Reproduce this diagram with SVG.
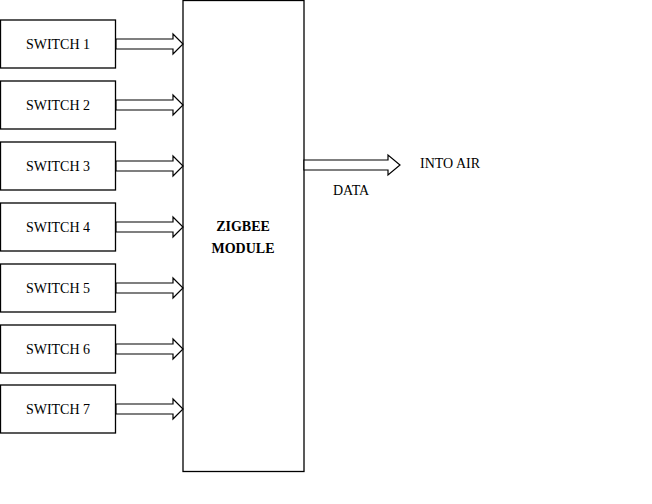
<svg xmlns="http://www.w3.org/2000/svg" width="652" height="504" viewBox="0 0 652 504">
<defs><style>
rect{fill:#fff;stroke:#000;stroke-width:1.3}
.a{fill:#fff;stroke:#000;stroke-width:1.2}
text{font-family:'Liberation Serif','Times New Roman','DejaVu Serif',serif;font-size:14px;fill:#000}
</style>
<polygon id="ar" class="a" points="0,-5 57,-5 57,-10 67,0 57,10 57,5 0,5"/>
</defs>
<rect width="652" height="504" style="stroke:none"/>
<g id="module"><rect x="183" y="0.5" width="121" height="471"/><text x="243" y="231" text-anchor="middle" font-weight="bold">ZIGBEE</text><text x="243" y="253" text-anchor="middle" font-weight="bold">MODULE</text></g>
<g id="s1"><rect x="0.5" y="20" width="115" height="48"/><text x="58" y="49" text-anchor="middle">SWITCH 1</text></g>
<g id="s2"><rect x="0.5" y="81" width="115" height="48"/><text x="58" y="110" text-anchor="middle">SWITCH 2</text></g>
<g id="s3"><rect x="0.5" y="142" width="115" height="48"/><text x="58" y="171" text-anchor="middle">SWITCH 3</text></g>
<g id="s4"><rect x="0.5" y="203" width="115" height="48"/><text x="58" y="232" text-anchor="middle">SWITCH 4</text></g>
<g id="s5"><rect x="0.5" y="264" width="115" height="48"/><text x="58" y="293" text-anchor="middle">SWITCH 5</text></g>
<g id="s6"><rect x="0.5" y="325" width="115" height="48"/><text x="58" y="354" text-anchor="middle">SWITCH 6</text></g>
<g id="s7"><rect x="0.5" y="385" width="115" height="48"/><text x="58" y="414" text-anchor="middle">SWITCH 7</text></g>
<g id="connectors">
<use href="#ar" x="116" y="44"/><use href="#ar" x="116" y="105"/><use href="#ar" x="116" y="166"/><use href="#ar" x="116" y="227"/><use href="#ar" x="116" y="288"/><use href="#ar" x="116" y="349"/><use href="#ar" x="116" y="409"/>
<polygon class="a" points="304,160 388,160 388,155 400,165 388,175 388,170 304,170"/>
</g>
<text x="333" y="195">DATA</text>
<text x="420" y="168">INTO AIR</text>
</svg>
